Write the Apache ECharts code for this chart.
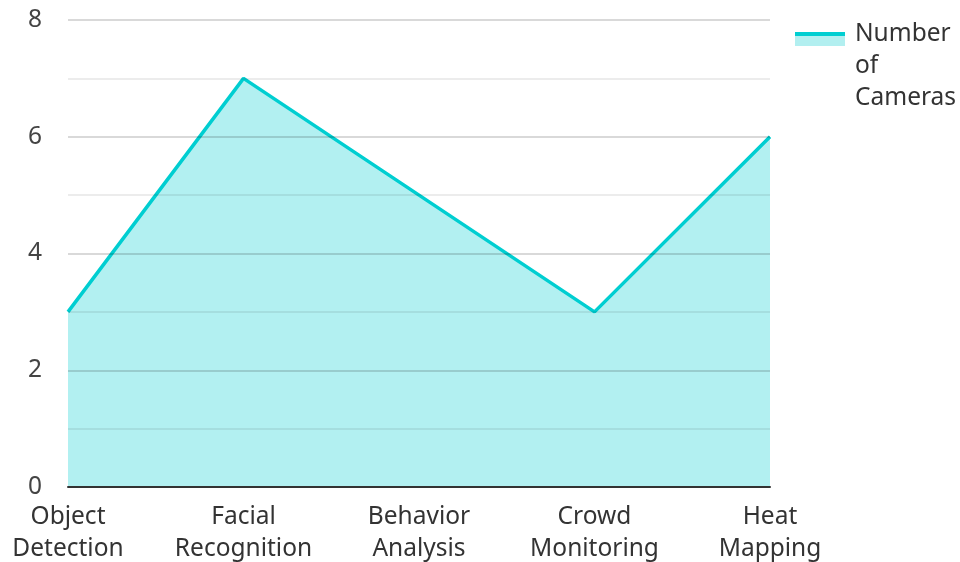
<!DOCTYPE html>
<html><head><meta charset="utf-8">
<script src="https://cdn.jsdelivr.net/npm/echarts@6/dist/echarts.min.js"></script>
<style>html,body{margin:0;padding:0;background:#fff}#c{width:960px;height:562px}</style>
</head><body><div id="c"></div>
<script>
const categories = ['Object\nDetection', 'Facial\nRecognition', 'Behavior\nAnalysis', 'Crowd\nMonitoring', 'Heat\nMapping'];
const cameraCounts = [3, 7, 5, 3, 6];
const seriesName = 'Number of Cameras';
const yTicks = [0, 2, 4, 6, 8];

const iconSvg = '<svg xmlns="http://www.w3.org/2000/svg" width="55" height="96"><rect x="0" y="15" width="50" height="13" fill="#b2eff0"/><rect x="0" y="14" width="50" height="4" fill="#00ced1"/></svg>';
const iconUrl = 'image://data:image/svg+xml;charset=utf-8,' + encodeURIComponent(iconSvg);

const chart = echarts.init(document.getElementById('c'));
chart.setOption({
  animation: false,
  textStyle: { fontFamily: 'Noto Sans' },
  grid: { left: 68, right: 190, top: 20, bottom: 75, outerBoundsMode: 'none', containLabel: false },
  legend: {
    orient: 'vertical', left: 795, top: 18, padding: 0,
    itemWidth: 55, itemHeight: 96, itemGap: 10,
    icon: iconUrl,
    lineStyle: { opacity: 0 },
    textStyle: { fontSize: 24.5, color: '#333', width: 108, overflow: 'break', lineHeight: 32 },
    data: [{ name: seriesName, icon: iconUrl }]
  },
  xAxis: {
    type: 'category', data: categories, boundaryGap: false, z: 5,
    axisLine: { lineStyle: { color: '#333', width: 2 } },
    axisTick: { show: false },
    axisLabel: { fontSize: 24.5, color: '#333', lineHeight: 32, margin: 14, interval: 0 }
  },
  yAxis: {
    type: 'value', min: yTicks[0], max: yTicks[yTicks.length - 1], interval: 2, z: 5,
    axisLine: { show: false }, axisTick: { show: false },
    axisLabel: { fontSize: 24.5, color: '#444', margin: 26 },
    splitLine: { lineStyle: { color: 'rgba(0,0,0,0.2)', width: 1.5 } },
    minorTick: { show: false, splitNumber: 2 },
    minorSplitLine: { show: true, lineStyle: { color: 'rgba(0,0,0,0.1)', width: 1.5 } }
  },
  series: [{
    name: seriesName, type: 'line', data: cameraCounts, z: 1,
    symbol: 'none', lineStyle: { color: '#00ced1', width: 3.5 },
    itemStyle: { color: '#00ced1' },
    areaStyle: { color: '#00ced1', opacity: 0.3 }
  }]
});
</script></body></html>
